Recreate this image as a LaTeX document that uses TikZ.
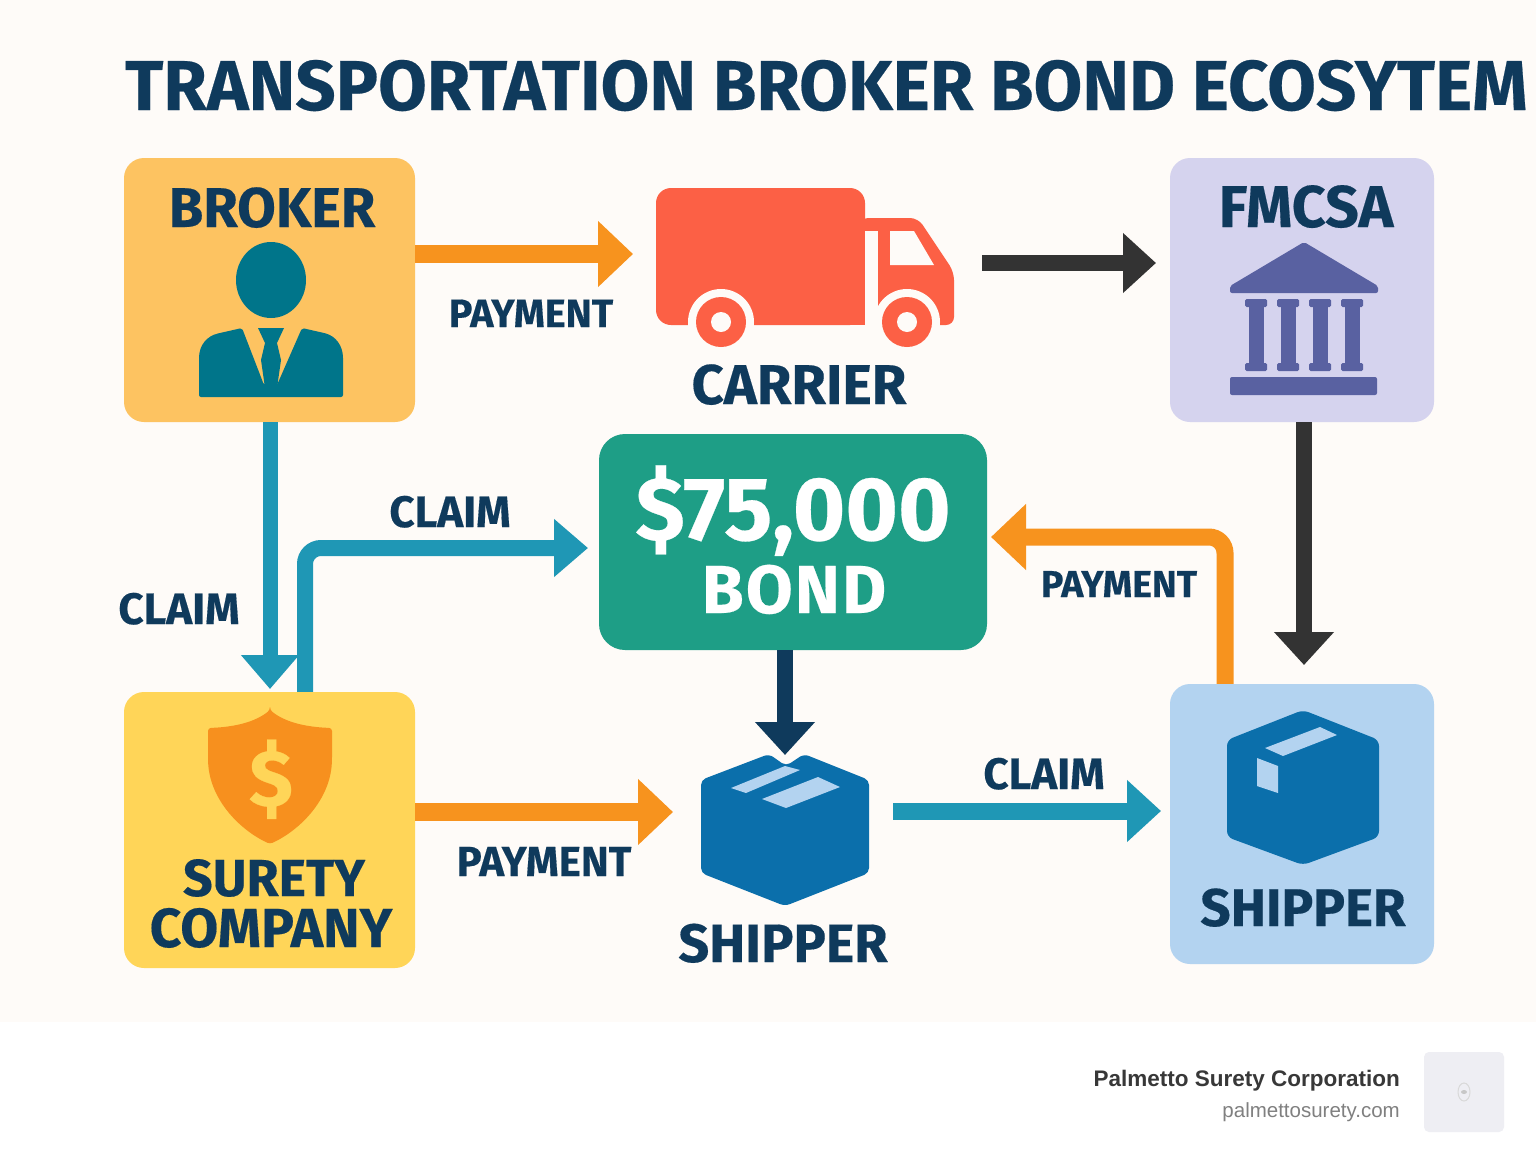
\documentclass[tikz,border=0pt]{standalone}
\usepackage{fontspec}
\setmainfont{Fira Sans}[BoldFeatures={FakeBold=0.3}]
\newfontfamily\footfont{Liberation Sans}
\usetikzlibrary{arrows.meta}
\definecolor{pagecol}{HTML}{FEFBF8}
\definecolor{navycol}{HTML}{0F3A5C}
\definecolor{brokercol}{HTML}{FDC361}
\definecolor{suretycol}{HTML}{FFD558}
\definecolor{fmcsacol}{HTML}{D5D3EE}
\definecolor{shippercol}{HTML}{B3D3F0}
\definecolor{bondcol}{HTML}{1E9E86}
\definecolor{payarrowcol}{HTML}{F7931E}
\definecolor{claimarrowcol}{HTML}{1F97B5}
\definecolor{darkarrowcol}{HTML}{333333}
\definecolor{personcol}{HTML}{00758A}
\definecolor{truckcol}{HTML}{FC6045}
\definecolor{bankcol}{HTML}{5961A1}
\definecolor{boxcol}{HTML}{0B6FAB}
\definecolor{shieldcol}{HTML}{F7901E}
\definecolor{logocol}{HTML}{EEEEF3}
\tikzset{
    roundbox/.style={rounded corners=#1, inner sep=0pt},
    biglabel/.style={anchor=base, text=navycol, inner sep=0pt, font=\fontsize{#1}{#1}\selectfont\bfseries},
    smalllabel/.style={anchor=base, text=navycol, inner sep=0pt, font=\fontsize{#1}{#1}\selectfont\bfseries},
    payarrow/.style={line width=18pt, draw=payarrowcol, -{Triangle[length=35pt,width=64pt]}},
    claimarrow/.style={line width=16pt, draw=claimarrowcol, -{Triangle[length=34pt,width=56pt]}},
    darkarrow/.style={line width=16pt, draw=darkarrowcol, -{Triangle[length=33pt,width=58pt]}},
}
\begin{document}
\begin{tikzpicture}[x=1pt,y=-1pt]
    \fill[white] (0,0) rectangle (1536,1154);
    \fill[pagecol] (0,0) rectangle (1536,1022);
    \node[anchor=base west, text=navycol, inner sep=0pt, font=\fontsize{70.6}{70.6}\selectfont\bfseries] (title) at (125,110) {TRANSPORTATION BROKER BOND ECOSYTEM};

    \node[roundbox=20pt, fill=brokercol, minimum width=291pt, minimum height=264pt] (broker) at (269.5,290) {};
    \node[roundbox=20pt, fill=fmcsacol, minimum width=264pt, minimum height=264pt] (fmcsa) at (1302,290) {};
    \node[roundbox=20pt, fill=suretycol, minimum width=291pt, minimum height=276pt] (surety) at (269.5,830) {};
    \node[roundbox=20pt, fill=shippercol, minimum width=264pt, minimum height=280pt] (shipperbox) at (1302,824) {};
    \node[roundbox=26pt, fill=bondcol, minimum width=388pt, minimum height=216pt] (bond) at (793,542) {};

    \fill[personcol] (271,280) ellipse (35pt and 38pt);
    \fill[personcol, rounded corners=2pt] (199,397) -- (199,360) .. controls (199,345) and (207,336) .. (220,333) -- (242,328) -- (264,385) -- (277,385) -- (302,328) -- (324,333) .. controls (335,336) and (343,345) .. (343,360) -- (343,397) -- cycle;
    \fill[personcol] (258,328) -- (284,328) -- (277,343) -- (281,360) -- (277,388) -- (265,388) -- (261,360) -- (265,343) -- cycle;

    \fill[truckcol, rounded corners=15pt] (656,325) -- (656,188) -- (865,188) -- (865,325) -- cycle;
    \fill[truckcol] (840,305) rectangle (865,325);
    \fill[truckcol, rounded corners=8pt] (860,218) -- (918,218) -- (954,272) -- (954,325) -- (860,325) -- cycle;
    \fill[pagecol] (865,231) rectangle (878,330);
    \fill[pagecol] (890,231) -- (914,231) -- (934,265) -- (890,265) -- cycle;
    \foreach \x in {721,907} {
        \fill[pagecol] (\x,322) circle (33pt);
        \fill[pagecol] (\x-32,326) rectangle (\x+32,345);
        \fill[truckcol] (\x,322) circle (25pt);
        \fill[pagecol] (\x,322) circle (10pt);
    }

    \fill[bankcol, rounded corners=2pt] (1304,242) -- (1378,286) -- (1378,293) -- (1230,293) -- (1230,286) -- cycle;
    \foreach \x in {1256,1288,1320,1352} {
        \fill[bankcol] (\x-7.5,299) rectangle (\x+7.5,371);
        \fill[bankcol, rounded corners=1.5pt] (\x-11,299) rectangle (\x+11,307);
        \fill[bankcol, rounded corners=1.5pt] (\x-11,363) rectangle (\x+11,371);
    }
    \fill[bankcol, rounded corners=2pt] (1230,377) rectangle (1377,395);

    \fill[shieldcol, rounded corners=3pt] (270,710) .. controls (255,722) and (235,727) .. (208,728) -- (208,760) .. controls (210,800) and (240,830) .. (270,844) .. controls (300,830) and (330,800) .. (332,760) -- (332,728) .. controls (305,727) and (285,722) .. (270,710) -- cycle;
    \node[anchor=base, text=suretycol, inner sep=0pt, font=\fontsize{80}{80}\selectfont\bfseries] (dollar) at (271,806) {\$};

    \fill[boxcol, rounded corners=5pt] (769,754) -- (786,766) -- (804,754) -- (869,780) -- (869,873) -- (785,906) -- (701,873) -- (701,780) -- cycle;
    \fill[shippercol] (731,788) -- (785,766) -- (800,770) -- (746,793) -- cycle;
    \fill[shippercol] (762,799) -- (818,777) -- (840,787) -- (786,808) -- cycle;

    \fill[boxcol, rounded corners=6pt] (1303,710) -- (1379,740) -- (1379,837) -- (1303,865) -- (1227,837) -- (1227,740) -- cycle;
    \fill[shippercol] (1265,748) -- (1320,727) -- (1337,735) -- (1283,756) -- cycle;
    \fill[shippercol] (1257,758) -- (1278,766) -- (1278,793) -- (1257,786) -- cycle;

    \node[biglabel=56] (brokerlabel) at (272,227) {BROKER};
    \node[biglabel=59] (fmcsalabel) at (1306,227) {FMCSA};
    \node[biglabel=56] (carrierlabel) at (799,404) {CARRIER};
    \node[biglabel=52] (suretylabel) at (274,896) {SURETY};
    \node[biglabel=55] (companylabel) at (271,947) {COMPANY};
    \node[biglabel=54] (shipperlabel) at (783,962) {SHIPPER};
    \node[biglabel=53] (shipperboxlabel) at (1303,926) {SHIPPER};
    \node[anchor=base, text=white, inner sep=0pt, font=\fontsize{90}{90}\selectfont\bfseries] (amount) at (793,540) {\$75,000};
    \node[anchor=base, text=white, inner sep=0pt, font=\fontsize{68}{68}\selectfont\bfseries\addfontfeatures{LetterSpace=3}] (bondlabel) at (794,613) {BOND};

    \node[smalllabel=39.5] (paylabela) at (531,327) {PAYMENT};
    \node[smalllabel=37.5] (paylabelb) at (1119,597) {PAYMENT};
    \node[smalllabel=42] (paylabelc) at (544,876) {PAYMENT};
    \node[smalllabel=44] (claimlabela) at (450,527) {CLAIM};
    \node[smalllabel=44] (claimlabelb) at (179,624) {CLAIM};
    \node[smalllabel=44] (claimlabelc) at (1044,789) {CLAIM};

    \coordinate (paytipa) at (633,254);
    \coordinate (carrierout) at (982,263);
    \coordinate (fmcsatip) at (1156,263);
    \coordinate (claimtipa) at (270,689);
    \coordinate (claimturn) at (305,548);
    \coordinate (claimtipb) at (588,548);
    \coordinate (fmcsadrop) at (1304,665);
    \coordinate (payturn) at (1225,537);
    \coordinate (paytipb) at (991,537);
    \coordinate (bonddrop) at (785,755);
    \coordinate (paytipc) at (673,812);
    \coordinate (claimout) at (893,811);
    \coordinate (claimtipc) at (1161,811);

    \draw[payarrow] (broker.east |- paytipa) -- (paytipa);
    \draw[darkarrow] (carrierout) -- (fmcsatip);
    \draw[claimarrow, line width=15pt] (broker.south -| claimtipa) -- (claimtipa);
    \draw[claimarrow, rounded corners=16pt] (surety.north -| claimturn) -- (claimturn) -- (claimtipb);
    \draw[darkarrow] (fmcsa.south -| fmcsadrop) -- (fmcsadrop);
    \draw[payarrow, line width=17pt, rounded corners=16pt] (shipperbox.north -| payturn) -- (payturn) -- (paytipb);
    \draw[darkarrow, draw=navycol] (bond.south -| bonddrop) -- (bonddrop);
    \draw[payarrow] (surety.east |- paytipc) -- (paytipc);
    \draw[claimarrow, line width=17pt, -{Triangle[length=34pt,width=60pt]}] (claimout) -- (claimtipc);

    \node[anchor=base east, text=black!78, inner sep=0pt, font=\footfont\fontsize{22.5}{22.5}\selectfont\bfseries] (company) at (1400,1086) {Palmetto Surety Corporation};
    \node[anchor=base east, text=black!50, inner sep=0pt, font=\footfont\fontsize{20.5}{20.5}\selectfont] (website) at (1400,1117) {palmettosurety.com};
    \node[roundbox=5pt, fill=logocol, minimum width=80pt, minimum height=80pt] (logo) at (1464,1092) {};
    \draw[black!15, line width=1pt] (logo.center) ellipse (6pt and 9pt);
    \fill[black!22] (logo.center) ellipse (3pt and 2pt);
\end{tikzpicture}
\end{document}
